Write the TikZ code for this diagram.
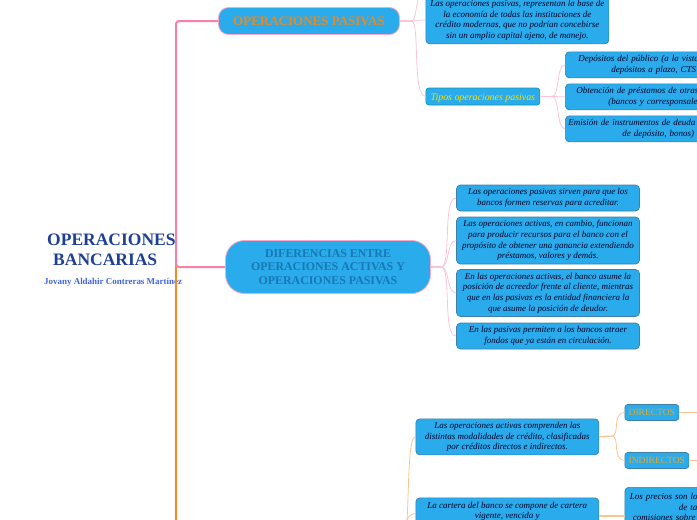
\documentclass[tikz,border=0pt]{standalone}
\usepackage{fontspec}
\setmainfont{Liberation Serif}
\definecolor{boxblue}{HTML}{29ABEC}
\definecolor{boxedge}{HTML}{3F7FA6}
\definecolor{pinkline}{HTML}{F77FA8}
\definecolor{paleline}{HTML}{FBC4D8}
\definecolor{orangeline}{HTML}{F58A24}
\definecolor{paleorange}{HTML}{FBC48E}
\definecolor{titleblue}{HTML}{1F3F94}
\definecolor{authorblue}{HTML}{3F63E0}
\definecolor{goldtext}{HTML}{E8A92C}
\definecolor{difftext}{HTML}{1878B4}
\definecolor{passivetext}{HTML}{E88A24}
\tikzset{
	textbox/.style={draw=boxedge,fill=boxblue,line width=0.7pt,rounded corners=4pt,align=center,inner sep=0pt,font=\fontsize{9}{10.6}\selectfont\itshape,text=black!85!blue},
	cutbox/.style={textbox,align=left,text width=140pt,minimum height=26pt,anchor=north west},
	labelbox/.style={draw=boxedge,fill=boxblue,line width=0.7pt,rounded corners=3pt,inner sep=0pt,font=\fontsize{9.5}{11}\selectfont,text=goldtext},
	mainbox/.style={draw=paleline!60!pinkline,fill=boxblue,line width=0.8pt,align=center,inner sep=0pt,font=\bfseries},
	titletext/.style={font=\fontsize{17.5}{20}\selectfont\bfseries,text=titleblue,inner sep=0pt,anchor=west},
	trunkpink/.style={draw=pinkline,line width=2pt,rounded corners=3pt},
	trunkorange/.style={draw=orangeline,line width=2pt},
	twig/.style={draw=paleline,line width=0.8pt},
	twigorange/.style={draw=paleorange,line width=0.8pt}
}
\begin{document}
\begin{tikzpicture}[x=1pt,y=-1pt]
	\useasboundingbox (0,0) rectangle (697,520);
	
	% free ends of the connectors
	\coordinate (rootP) at (176,267);
	\coordinate (topP) at (176,21);
	\coordinate (orangeTop) at (176,260);
	\coordinate (botP) at (176,520);
	\coordinate (forkA) at (412,21);
	\coordinate (forkB) at (552,96.5);
	\coordinate (forkC) at (441,267);
	\coordinate (forkD) at (612,436);
	\coordinate (forkE) at (407,520);
	\coordinate (upA) at (418,0);
	\coordinate (dirEnd) at (697,412.5);
	\coordinate (indEnd) at (697,460.5);
	
	% title
	\node[titletext] (title) at (47,240) {OPERACIONES};
	\node[titletext] (title2) at (53,260) {BANCARIAS};
	\node[font=\fontsize{8.95}{10}\selectfont\bfseries,text=authorblue,inner sep=0pt,anchor=west] (author) at (44,282.5) {Jovany Aldahir Contreras Martínez};
	
	% main branches
	\node[mainbox,rounded corners=10pt,minimum width=181pt,minimum height=27pt,text=passivetext,font=\fontsize{13}{15}\selectfont\bfseries] (pasivas) at (309,21) {OPERACIONES PASIVAS};
	\node[mainbox,rounded corners=19pt,minimum width=205pt,minimum height=53pt,text=difftext,font=\fontsize{11.9}{13.5}\selectfont\bfseries] (dif) at (328,267) {DIFERENCIAS ENTRE\\OPERACIONES ACTIVAS Y\\OPERACIONES PASIVAS};
	
	% first branch
	\node[textbox,minimum width=183pt,minimum height=47pt,anchor=north west] (p1) at (425.5,-3.5) {Las operaciones pasivas, representan la base de\\la economía de todas las instituciones de\\crédito modernas, que no podrían concebirse\\sin un amplio capital ajeno, de manejo.};
	\node[labelbox,minimum width=114pt,minimum height=17pt,anchor=west,draw=teal!50!boxblue,text=yellow!85!orange,text height=7.5pt,text depth=0pt,font=\fontsize{9.9}{12}\selectfont\itshape] (tipos) at (425.5,96.5) {Tipos operaciones pasivas};
	\node[cutbox] (t1) at (565,51.5) {\hspace*{13pt}Depósitos del público (a la vista\\\hspace*{46pt}depósitos a plazo, CTS};
	\node[cutbox] (t2) at (565,83.5) {\hspace*{11pt}Obtención de préstamos de otras\\\hspace*{43pt}(bancos y corresponsale};
	\node[cutbox] (t3) at (565,115.5) {\hspace*{3pt}Emisión de instrumentos de deuda\\\hspace*{57pt}de depósito, bonos)};
	
	% second branch
	\node[textbox,minimum width=183pt,minimum height=26pt] (d1) at (548,198) {Las operaciones pasivas sirven para que los\\bancos formen reservas para acreditar.};
	\node[textbox,minimum width=183pt,minimum height=47pt] (d2) at (548,240.5) {Las operaciones activas, en cambio, funcionan\\para producir recursos para el banco con el\\propósito de obtener una ganancia extendiendo\\préstamos, valores y demás.};
	\node[textbox,minimum width=183pt,minimum height=47pt] (d3) at (548,293) {En las operaciones activas, el banco asume la\\posición de acreedor frente al cliente, mientras\\que en las pasivas es la entidad financiera la\\que asume la posición de deudor.};
	\node[textbox,minimum width=183pt,minimum height=26pt] (d4) at (548,336) {En las pasivas  permiten a los bancos atraer\\fondos que ya están en circulación.};
	
	% third branch
	\node[textbox,minimum width=183pt,minimum height=36pt,anchor=north west] (a1) at (415.5,418.5) {Las operaciones activas comprenden las\\distintas modalidades de crédito, clasificadas\\por créditos directos e indirectos.};
	\node[labelbox,minimum width=54pt,minimum height=16pt,anchor=west] (dir) at (624.5,412.5) {DIRECTOS};
	\node[labelbox,minimum width=64pt,minimum height=16pt,anchor=west] (ind) at (624.5,460.5) {INDIRECTOS};
	\node[textbox,minimum width=183pt,minimum height=46pt,anchor=north west] (a2) at (415.5,497.5) {La cartera del banco se compone de cartera\\vigente, vencida y\\\phantom{x}\\\phantom{x}};
	\node[textbox,minimum width=90pt,minimum height=50pt,anchor=north west,align=left,text width=90pt] (a3) at (624.5,487) {\hspace*{5pt}Los precios son lo\\\hspace*{54pt}de ta\\\hspace*{8pt}comisiones sobre\\\phantom{x}};
	
	% trunk
	\draw[trunkorange] (orangeTop) -- (botP);
	\draw[trunkpink] (dif.west) -- (rootP) -- (topP) -- (pasivas.west);
	
	% twigs of the first branch
	\draw[twig,line width=1.2pt] (pasivas.east) -- (forkA);
	\draw[twig] (forkA) .. controls (415,21) and (416,8) .. (upA);
	\draw[twig] (forkA) .. controls (416,21) and (420,20) .. (p1.west |- 0,20);
	\draw[twig] (forkA) .. controls (420,25) and (412,95) .. (tipos.west);
	\draw[twig,line width=1.2pt] (tipos.east) -- (forkB);
	\draw[twig] (forkB) .. controls (560,96) and (556,65) .. (t1.west);
	\draw[twig] (forkB) -- (t2.west);
	\draw[twig] (forkB) .. controls (560,97) and (556,128) .. (t3.west);
	
	% twigs of the second branch
	\draw[twig,line width=1.2pt] (dif.east) -- (forkC);
	\draw[twig] (forkC) .. controls (452,267) and (442,198) .. (d1.west);
	\draw[twig] (forkC) .. controls (450,267) and (446,241) .. (d2.west);
	\draw[twig] (forkC) .. controls (450,267) and (446,293) .. (d3.west);
	\draw[twig] (forkC) .. controls (452,267) and (442,336) .. (d4.west);
	
	% twigs of the third branch
	\draw[twigorange] (forkE) .. controls (409,490) and (408,436) .. (a1.west);
	\draw[twigorange] (forkE) .. controls (409,515) and (412,514) .. (a2.west |- 0,513);
	\draw[twigorange,line width=1.2pt] (a1.east) -- (forkD);
	\draw[twigorange] (forkD) .. controls (620,436) and (612,412) .. (dir.west);
	\draw[twigorange] (forkD) .. controls (620,436) and (612,460) .. (ind.west);
	\draw[twigorange,line width=1.2pt] (dir.east) -- (dirEnd);
	\draw[twigorange,line width=1.2pt] (ind.east) -- (indEnd);
	\draw[twigorange,line width=1.2pt] (a2.east |- 0,516) -- (a3.west |- 0,516);
\end{tikzpicture}
\end{document}
